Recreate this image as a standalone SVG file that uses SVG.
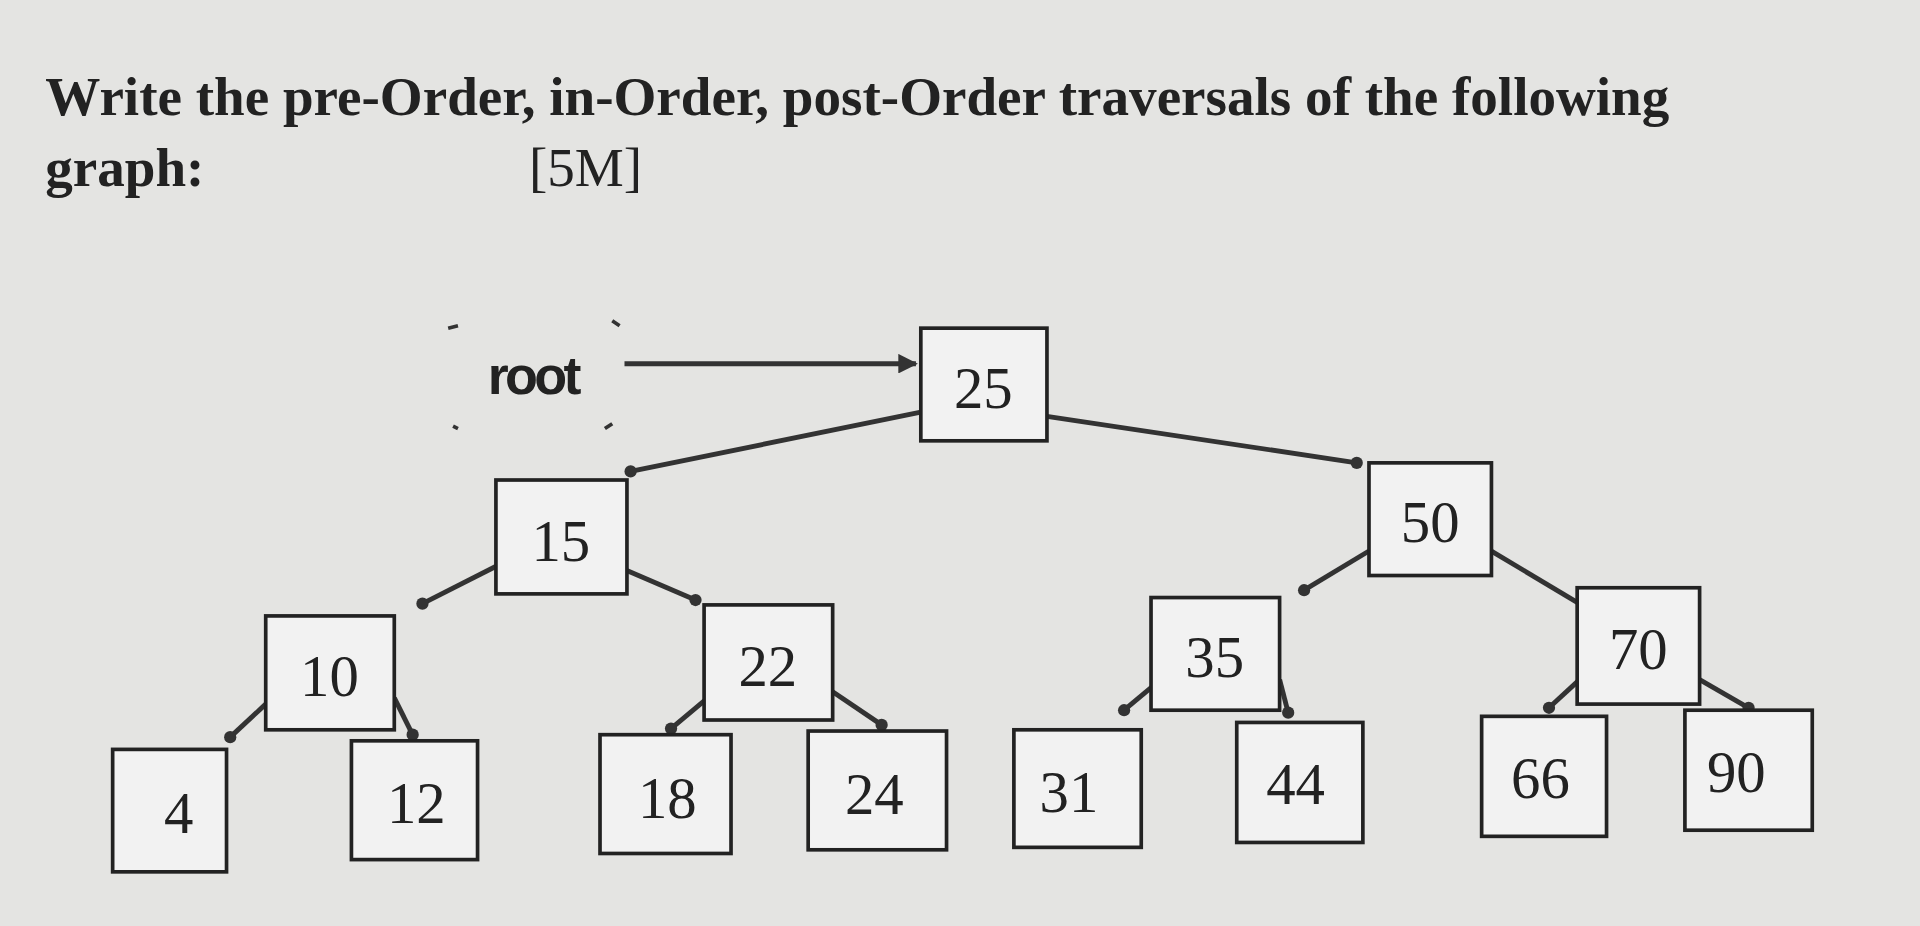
<svg xmlns="http://www.w3.org/2000/svg" width="1920" height="926" viewBox="0 0 1920 926">
<style>
.n rect{fill:#f2f2f2;stroke:#222;stroke-width:3}
.n text{font-family:"Liberation Serif",serif;font-size:48px;fill:#222;text-anchor:middle}
.e line{stroke:#333;stroke-width:4}
.e circle{fill:#333}
.t{font-family:"Liberation Serif",serif;font-size:45px;fill:#222}
</style>
<defs><marker id="a" viewBox="0 0 10 10" refX="9" refY="5" markerWidth="4" markerHeight="4" orient="auto"><path d="M0,0L10,5L0,10z" fill="#333"/></marker></defs>
<rect width="1920" height="926" fill="#e4e4e2"/>
<g transform="scale(1.2245)">
<text class="t" x="37" y="94" font-weight="bold">Write the pre-Order, in-Order, post-Order traversals of the following</text>
<text class="t" x="37" y="152" font-weight="bold">graph:</text>
<text class="t" x="432" y="152">[5M]</text>
<g id="root"><text x="435" y="322" style="font-family:'Liberation Sans',sans-serif;font-size:44px;font-weight:bold;fill:#222;text-anchor:middle;letter-spacing:-3px">root</text>
<path d="M366,268l8,-2M500,262l6,4M370,348l4,2M494,350l6,-4" stroke="#333" stroke-width="3"/></g>
<g class="e" id="connectors">
<line x1="510" y1="297" x2="748" y2="297" marker-end="url(#a)"/>
<line x1="755" y1="336" x2="515" y2="385"/><circle cx="515" cy="385" r="5"/>
<line x1="855" y1="340" x2="1108" y2="378"/><circle cx="1108" cy="378" r="5"/>
<line x1="410" y1="460" x2="345" y2="493"/><circle cx="345" cy="493" r="5"/>
<line x1="510" y1="465" x2="568" y2="490"/><circle cx="568" cy="490" r="5"/>
<line x1="1118" y1="450" x2="1065" y2="482"/><circle cx="1065" cy="482" r="5"/>
<line x1="1218" y1="450" x2="1288" y2="492"/>
<line x1="217" y1="575" x2="188" y2="602"/><circle cx="188" cy="602" r="5"/>
<line x1="322" y1="570" x2="337" y2="600"/><circle cx="337" cy="600" r="5"/>
<line x1="578" y1="570" x2="548" y2="595"/><circle cx="548" cy="595" r="5"/>
<line x1="680" y1="565" x2="720" y2="592"/><circle cx="720" cy="592" r="5"/>
<line x1="942" y1="560" x2="918" y2="580"/><circle cx="918" cy="580" r="5"/>
<line x1="1045" y1="555" x2="1052" y2="582"/><circle cx="1052" cy="582" r="5"/>
<line x1="1290" y1="555" x2="1265" y2="578"/><circle cx="1265" cy="578" r="5"/>
<line x1="1388" y1="555" x2="1428" y2="578"/><circle cx="1428" cy="578" r="5"/>
</g>
<g class="n" id="n25"><rect x="752" y="268" width="103" height="92"/><text x="803" y="333">25</text></g>
<g class="n" id="n15"><rect x="405" y="392" width="107" height="93"/><text x="458" y="458">15</text></g>
<g class="n" id="n50"><rect x="1118" y="378" width="100" height="92"/><text x="1168" y="443">50</text></g>
<g class="n" id="n10"><rect x="217" y="503" width="105" height="93"/><text x="269" y="568">10</text></g>
<g class="n" id="n22"><rect x="575" y="494" width="105" height="94"/><text x="627" y="560">22</text></g>
<g class="n" id="n35"><rect x="940" y="488" width="105" height="92"/><text x="992" y="553">35</text></g>
<g class="n" id="n70"><rect x="1288" y="480" width="100" height="95"/><text x="1338" y="546">70</text></g>
<g class="n" id="n4"><rect x="92" y="612" width="93" height="100"/><text x="146" y="680">4</text></g>
<g class="n" id="n12"><rect x="287" y="605" width="103" height="97"/><text x="340" y="672">12</text></g>
<g class="n" id="n18"><rect x="490" y="600" width="107" height="97"/><text x="545" y="668">18</text></g>
<g class="n" id="n24"><rect x="660" y="597" width="113" height="97"/><text x="714" y="665">24</text></g>
<g class="n" id="n31"><rect x="828" y="596" width="104" height="96"/><text x="873" y="663">31</text></g>
<g class="n" id="n44"><rect x="1010" y="590" width="103" height="98"/><text x="1058" y="657">44</text></g>
<g class="n" id="n66"><rect x="1210" y="585" width="102" height="98"/><text x="1258" y="652">66</text></g>
<g class="n" id="n90"><rect x="1376" y="580" width="104" height="98"/><text x="1418" y="647">90</text></g>
</g>
</svg>
